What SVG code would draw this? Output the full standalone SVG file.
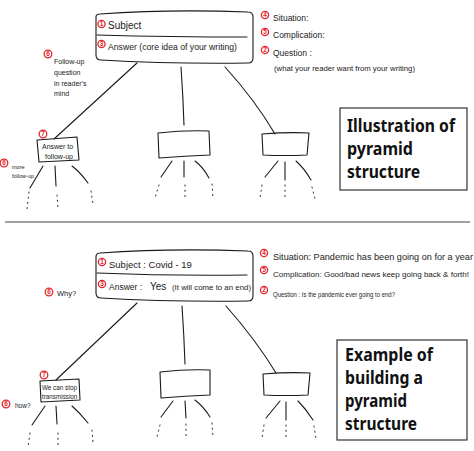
<svg xmlns="http://www.w3.org/2000/svg" width="474" height="451" viewBox="0 0 474 451">
<style>
.bg{fill:#fff}
.ln{fill:none;stroke:#1a1a1a;stroke-width:1.1;stroke-linecap:round;stroke-linejoin:round}
.dt{fill:none;stroke:#333;stroke-width:1;stroke-dasharray:1.2 4;stroke-linecap:round}
.hw{font-family:"Liberation Sans",Arial,sans-serif;fill:#1a1a1a}
.rc{fill:#fff;stroke:#e3262e;stroke-width:1.3}
.rn{font-family:"Liberation Sans",Arial,sans-serif;font-size:6.5px;font-weight:bold;fill:#e3262e;text-anchor:middle}
.tb{fill:#fff;stroke:#333;stroke-width:1.2}
.tt{font-family:"Noto Sans","Open Sans",sans-serif;font-weight:bold;fill:#111}
</style>
<rect class="bg" x="0" y="0" width="474" height="451"/>

<g id="connectors">
  <!-- top -->
  <path class="ln" d="M137,63 L54,139"/>
  <path class="ln" d="M181,67 Q183,95 184,125"/>
  <path class="ln" d="M225,67 Q255,100 275,134"/>
  <path class="ln" d="M43,166 L30,188 M55,166 L56,186 M72,166 Q80,172 88,183"/>
  <path class="dt" d="M29,192 L27,209 M57,195 L58,209 M91,191 L93,204"/>
  <path class="ln" d="M172,161 L161,177 M184,161 L184,177 M195,161 Q203,167 209,178"/>
  <path class="dt" d="M159,185 L155,198 M185,185 L185,198 M212,184 L213,198"/>
  <path class="ln" d="M278,161 L265,177 M285,162 L285,180 M296,161 Q304,168 311,180"/>
  <path class="dt" d="M262,185 L260,198 M285,185 L285,198 M312,187 L315,199"/>
  <!-- bottom -->
  <path class="ln" d="M137,303 L56,380"/>
  <path class="ln" d="M182,306 Q184,335 185,364"/>
  <path class="ln" d="M226,306 Q256,340 276,373"/>
  <path class="ln" d="M45,406 L32,425 M56,406 L57,424 M72,406 Q80,413 88,423"/>
  <path class="dt" d="M30,433 L28,447 M58,433 L58,447 M92,430 L93,443"/>
  <path class="ln" d="M173,401 L161,417 M185,401 L186,418 M195,400 Q204,407 210,417"/>
  <path class="dt" d="M160,425 L157,437 M186,424 L186,437 M212,423 L213,437"/>
  <path class="ln" d="M280,401 L266,418 M286,402 L286,420 M298,401 Q306,409 313,420"/>
  <path class="dt" d="M264,425 L262,438 M286,425 L286,438 M314,426 L316,439"/>
</g>

<line x1="5" y1="222" x2="470" y2="222" stroke="#444" stroke-width="1.2"/>

<!-- ===== TOP SECTION ===== -->
<g id="main-top">
  <path class="ln" d="M96,17 Q96,14 100,14 Q170,9 248,12 Q253,12 253,17 L253,58 Q253,63 248,63 Q170,64 101,60 Q96,60 96,55 Z"/>
  <path class="ln" d="M97,35 Q170,37 247,37"/>
  <circle class="rc" cx="101.5" cy="24" r="3.6"/><text class="rn" x="101.5" y="26.3">1</text>
  <text class="hw" x="108" y="29" font-size="10">Subject</text>
  <circle class="rc" cx="101.5" cy="44" r="3.6"/><text class="rn" x="101.5" y="46.3">3</text>
  <text class="hw" x="108" y="50" font-size="8.6" textLength="129" lengthAdjust="spacingAndGlyphs">Answer (core idea of your writing)</text>
</g>

<g id="scq-top">
  <circle class="rc" cx="265" cy="15" r="3.6"/><text class="rn" x="265" y="17.3">4</text>
  <text class="hw" x="273" y="21" font-size="8.5">Situation:</text>
  <circle class="rc" cx="265" cy="32" r="3.6"/><text class="rn" x="265" y="34.3">5</text>
  <text class="hw" x="273" y="38" font-size="8.5">Complication:</text>
  <circle class="rc" cx="265" cy="50" r="3.6"/><text class="rn" x="265" y="52.3">2</text>
  <text class="hw" x="273" y="56" font-size="8.5">Question :</text>
  <text class="hw" x="274" y="71" font-size="7" textLength="141" lengthAdjust="spacingAndGlyphs">(what your reader want from your writing)</text>
</g>

<g id="followup-top">
  <circle class="rc" cx="48" cy="54" r="3.8"/><text class="rn" x="48" y="56.3">6</text>
  <text class="hw" x="54" y="64" font-size="7">Follow-up</text>
  <text class="hw" x="54" y="75" font-size="7">question</text>
  <text class="hw" x="54" y="86" font-size="7">in reader's</text>
  <text class="hw" x="54" y="96" font-size="7">mind</text>
</g>

<g id="answer-followup-top">
  <path class="ln" d="M37,140 L77,137 L79,160 L39,162 Z"/>
  <circle class="rc" cx="43" cy="134" r="3.8"/><text class="rn" x="43" y="136.3">7</text>
  <text class="hw" x="42" y="149" font-size="7">Answer to</text>
  <text class="hw" x="45" y="159" font-size="7">follow-up</text>
</g>

<g id="more-followup-top">
  <circle class="rc" cx="4" cy="163" r="3.8"/><text class="rn" x="4" y="165.3">6</text>
  <text class="hw" x="12" y="169" font-size="5.5">more</text>
  <text class="hw" x="12" y="178" font-size="5.5">follow-up</text>
</g>

<g id="node-mid-top">
  <path class="ln" d="M158,133 Q185,130 209,131 L210,155 Q185,156 159,158 Z"/>
</g>
<g id="node-right-top">
  <path class="ln" d="M262,134 Q288,132 309,133 L307,155 Q285,156 263,155 Z"/>
</g>

<g id="title-top">
  <rect class="tb" x="340" y="108" width="127" height="82"/>
  <text class="tt" x="347" y="132" font-size="17.5" textLength="108" lengthAdjust="spacingAndGlyphs">Illustration of</text>
  <text class="tt" x="347" y="155" font-size="17.5" textLength="66" lengthAdjust="spacingAndGlyphs">pyramid</text>
  <text class="tt" x="347" y="178" font-size="17.5" textLength="73" lengthAdjust="spacingAndGlyphs">structure</text>
</g>

<!-- ===== BOTTOM SECTION ===== -->
<g id="main-bottom">
  <path class="ln" d="M96,257 Q96,253 100,253 Q170,248 248,251 Q253,251 253,256 L253,296 Q253,301 248,301 Q170,302 101,298 Q96,298 96,293 Z"/>
  <path class="ln" d="M97,273 Q170,276 247,275"/>
  <circle class="rc" cx="102" cy="262" r="3.6"/><text class="rn" x="102" y="264.3">1</text>
  <text class="hw" x="109" y="268" font-size="9.5">Subject : Covid - 19</text>
  <circle class="rc" cx="102" cy="284" r="3.6"/><text class="rn" x="102" y="286.3">3</text>
  <text class="hw" x="109" y="290" font-size="8.5">Answer :</text>
  <text class="hw" x="150" y="290" font-size="10">Yes</text>
  <text class="hw" x="172" y="290" font-size="7.5" textLength="79" lengthAdjust="spacingAndGlyphs">(It will come to an end)</text>
</g>

<g id="scq-bottom">
  <circle class="rc" cx="264" cy="253" r="3.6"/><text class="rn" x="264" y="255.3">4</text>
  <text class="hw" x="273" y="260" font-size="8.5" textLength="200" lengthAdjust="spacingAndGlyphs">Situation:  Pandemic has been going on for a year</text>
  <circle class="rc" cx="264" cy="270" r="3.6"/><text class="rn" x="264" y="272.3">5</text>
  <text class="hw" x="273" y="277" font-size="8" textLength="196" lengthAdjust="spacingAndGlyphs">Complication: Good/bad news keep going back &amp; forth!</text>
  <circle class="rc" cx="264" cy="290" r="3.6"/><text class="rn" x="264" y="292.3">2</text>
  <text class="hw" x="273" y="297" font-size="8" textLength="122" lengthAdjust="spacingAndGlyphs">Question : Is the pandemic ever going to end?</text>
</g>

<g id="why-bottom">
  <circle class="rc" cx="49" cy="292" r="3.8"/><text class="rn" x="49" y="294.3">6</text>
  <text class="hw" x="57" y="296" font-size="7.5">Why?</text>
</g>

<g id="answer-followup-bottom">
  <path class="ln" d="M40,381 L79,379 L80,400 L41,402 Z"/>
  <circle class="rc" cx="44" cy="375" r="3.8"/><text class="rn" x="44" y="377.3">7</text>
  <text class="hw" x="42" y="390" font-size="6.3">We can stop</text>
  <text class="hw" x="42" y="399" font-size="6.3">transmission</text>
</g>

<g id="how-bottom">
  <circle class="rc" cx="6" cy="404" r="3.8"/><text class="rn" x="6" y="406.3">6</text>
  <text class="hw" x="15" y="408" font-size="6.5">how?</text>
</g>

<g id="node-mid-bottom">
  <path class="ln" d="M160,372 Q186,369 210,370 L210,395 Q185,396 161,398 Z"/>
</g>
<g id="node-right-bottom">
  <path class="ln" d="M263,374 Q288,372 310,373 L308,395 Q285,396 264,395 Z"/>
</g>

<g id="title-bottom">
  <rect class="tb" x="337" y="340" width="130" height="100"/>
  <text class="tt" x="345" y="361" font-size="18" textLength="88" lengthAdjust="spacingAndGlyphs">Example of</text>
  <text class="tt" x="345" y="384" font-size="18" textLength="78" lengthAdjust="spacingAndGlyphs">building a</text>
  <text class="tt" x="345" y="407" font-size="18" textLength="62" lengthAdjust="spacingAndGlyphs">pyramid</text>
  <text class="tt" x="345" y="430" font-size="18" textLength="72" lengthAdjust="spacingAndGlyphs">structure</text>
</g>
</svg>
